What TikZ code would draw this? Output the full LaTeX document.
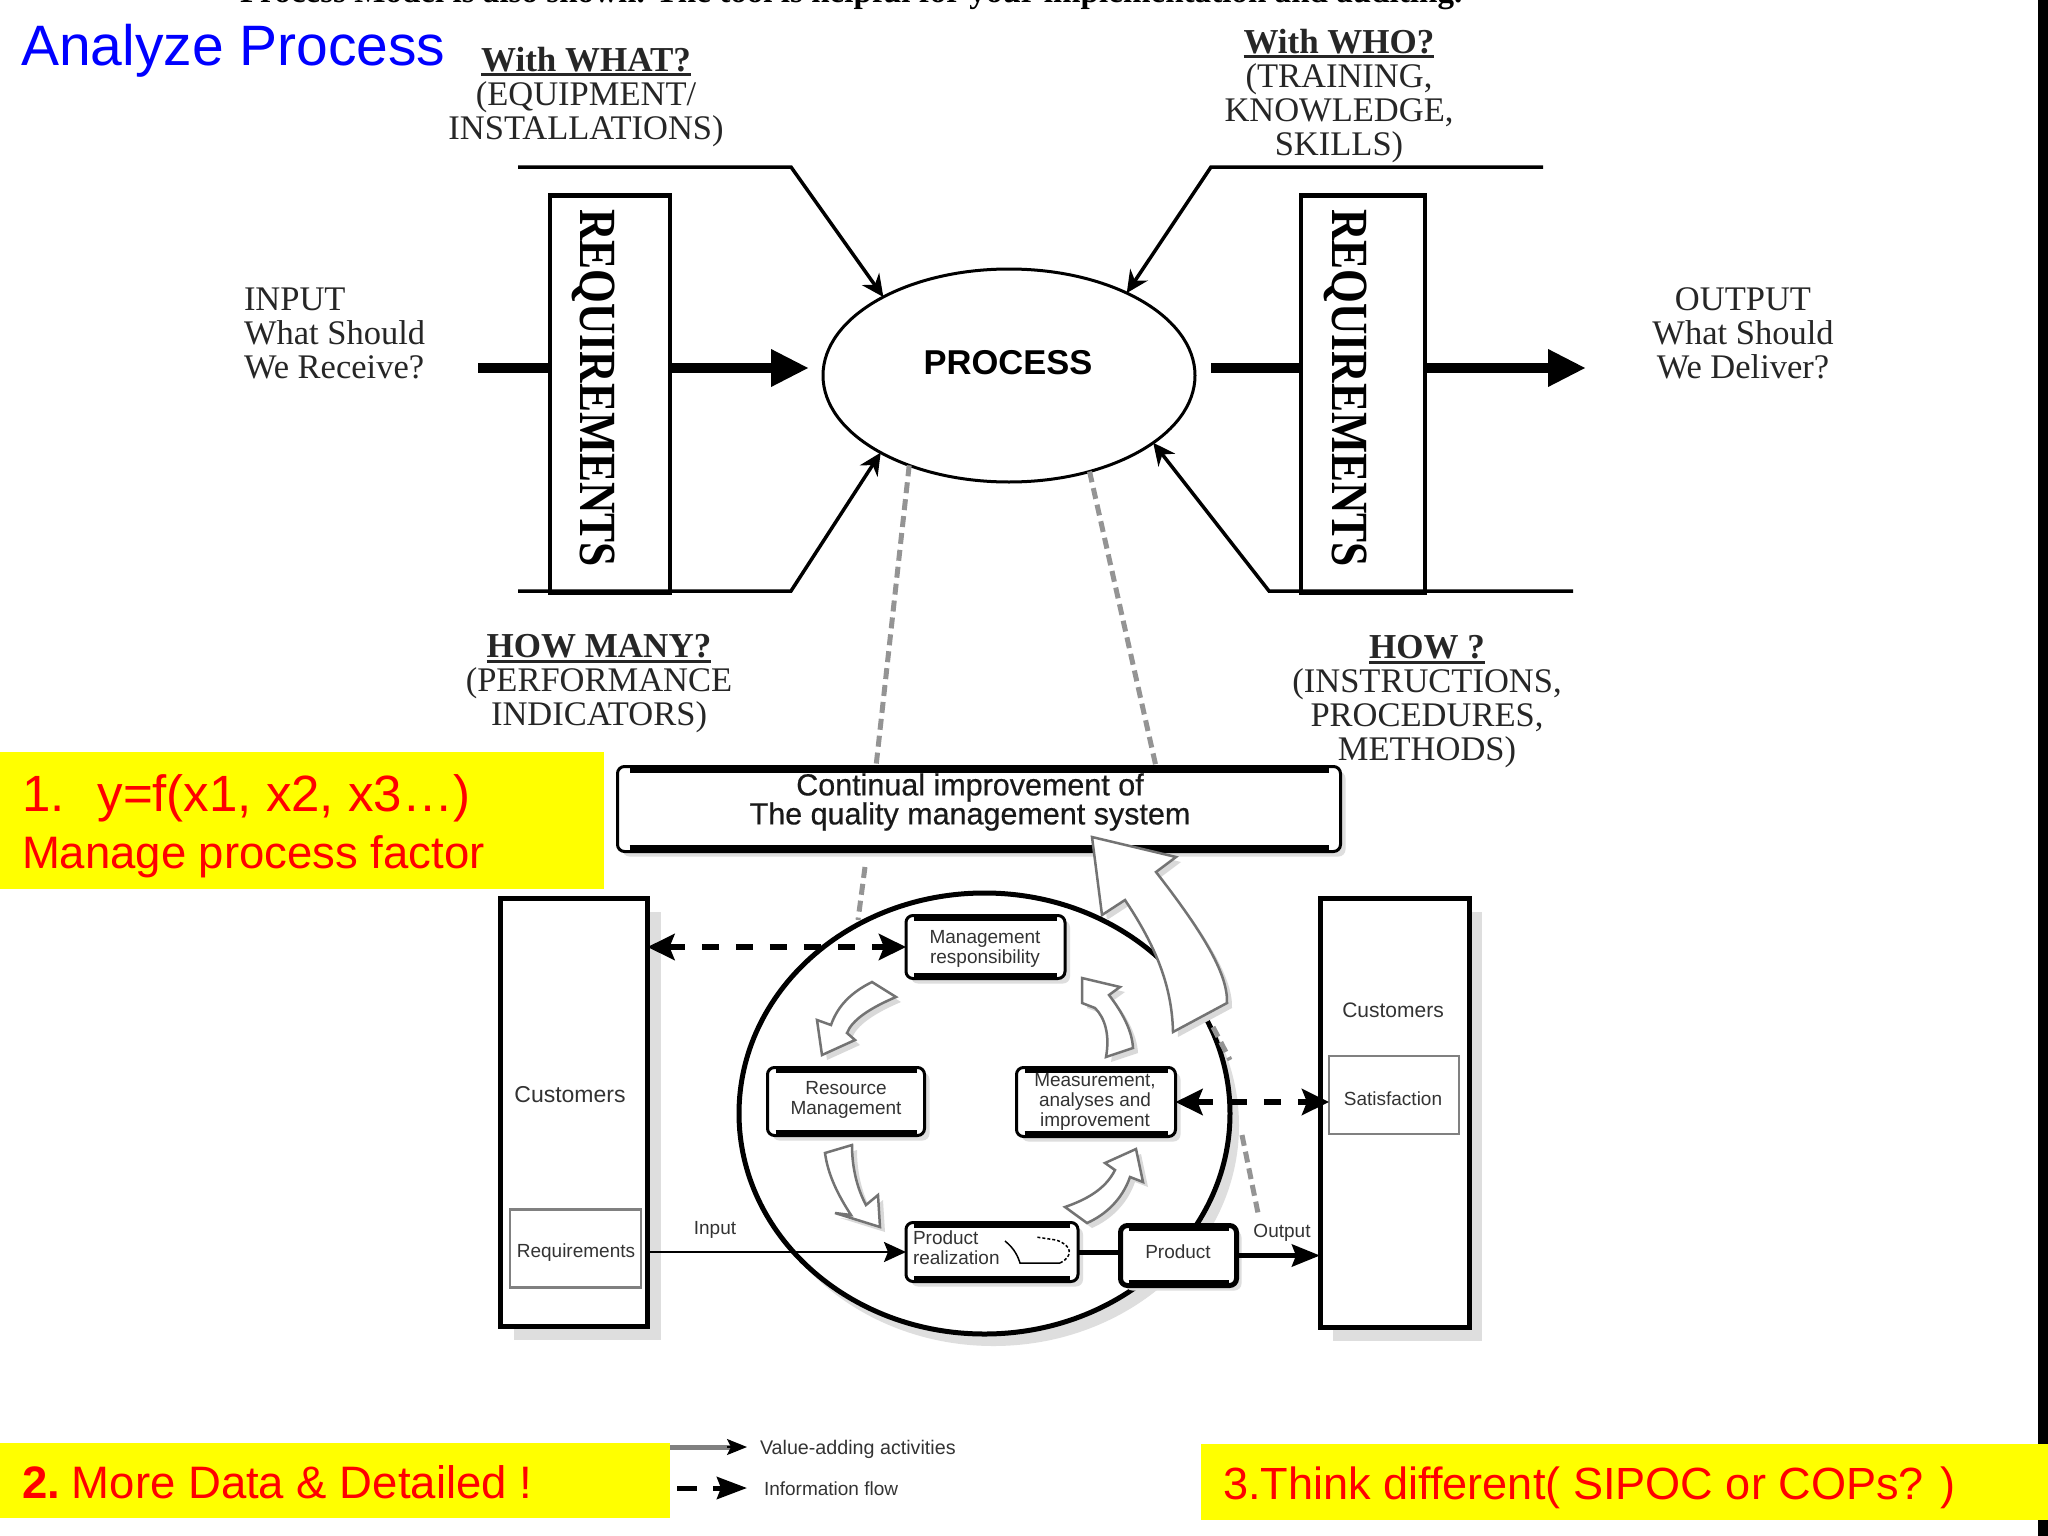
\documentclass[tikz,border=0pt]{standalone}
\usepackage{fontspec}
\setmainfont{Liberation Serif}
\setsansfont{Liberation Sans}
\newfontfamily\heavysans[FakeBold=0.5]{Liberation Sans}
\usetikzlibrary{arrows.meta,shapes.geometric,shadows}
\definecolor{noteyellow}{RGB}{255,255,0}
\definecolor{notered}{RGB}{255,0,0}
\definecolor{titleblue}{RGB}{0,0,255}
\newcommand{\headul}[1]{\setbox0\hbox{\bfseries\fontsize{35}{33}\selectfont #1}\leavevmode\rlap{\rule[-5pt]{\wd0}{3pt}}\box0}
\newcommand{\reqword}{\scalebox{1}[1.2]{\bfseries\fontsize{43.5}{46}\selectfont REQUIREMENTS}}
\tikzset{
	base/.style={inner sep=0pt, outer sep=0pt},
	toplabel/.style={base, align=center, text=black!85, font=\fontsize{34.5}{34}\selectfont},
	smalltext/.style={base, align=center, text=black!80, font=\sffamily\fontsize{19}{20}\selectfont},
	notetext/.style={base, anchor=base west, text=notered, font=\sffamily\fontsize{45.5}{50}\selectfont},
	reqbox/.style={base, draw, line width=4.5pt, minimum height=397pt},
	feedline/.style={line width=3.5pt, line join=miter, -{Stealth[length=22pt,width=21pt]}},
	bigflow/.style={line width=10pt},
	bigarrow/.style={bigflow, -{Triangle[length=38pt,width=35pt]}},
	gaydash/.style={line width=5pt, color=black!42, dash pattern=on 11pt off 6pt},
	custbox/.style={base, draw, fill=white, line width=5pt, drop shadow={shadow xshift=13pt, shadow yshift=-13pt, fill=black!13, opacity=1}},
	innerbox/.style={base, draw=black!50, fill=white, line width=2.5pt},
	ctlbox/.style={base, draw, fill=white, line width=3pt, rounded corners=7pt, drop shadow={shadow xshift=5pt, shadow yshift=-5pt, fill=black!13, opacity=1}},
	ctlbar/.style={line width=7pt},
	blockarrow/.style={draw=black!55, fill=white, line width=2.5pt, line join=miter, drop shadow={shadow xshift=5pt, shadow yshift=-5pt, fill=black!15, opacity=1}},
	infoflow/.style={line width=6pt, dash pattern=on 17pt off 17pt},
	infotips/.style={{Stealth[length=27pt,width=26pt,inset=5pt]}-{Stealth[length=27pt,width=26pt,inset=5pt]}},
}
\begin{document}
\begin{tikzpicture}[x=1pt, y=-1pt]
	\useasboundingbox (0, 0) rectangle (2048, 1536);
	\clip (0, 0) rectangle (2048, 1536);
	\fill[white] (0, 0) rectangle (2048, 1536);
	\fill[black] (2038, 0) rectangle (2048, 1536);
	
	%%%%% UPPER MODEL %%%%%
	
	\node[base, anchor=base west, font=\bfseries\fontsize{33.1}{33}\selectfont] (topline) at (240, 3) {Process Model is also shown. The tool is helpful for your implementation and auditing.};
	
	\node[base, draw, ellipse, line width=3pt, minimum width=372pt, minimum height=213pt] (process) at (1009, 375.5) {};
	\node[base, font=\sffamily\bfseries\fontsize{34.5}{33}\selectfont] (processtext) at (1008, 363) {PROCESS};
	
	\node[reqbox, minimum width=120pt] (reqL) at (610, 394) {};
	\node[reqbox, minimum width=124pt] (reqR) at (1363, 394) {};
	\node[base, rotate=-90] (reqtextL) at (593.5, 388) {\reqword};
	\node[base, rotate=-90] (reqtextR) at (1346, 388) {\reqword};
	
	\coordinate (inL) at (478, 368);
	\coordinate (outR) at (1586, 368);
	\draw[bigflow] (inL) -- (reqL.west |- inL);
	\draw[bigarrow, shorten >=14pt] (reqL.east |- inL) -- (process.west |- inL);
	\draw[bigflow, shorten <=16pt] (process.east |- inL) -- (reqR.west |- inL);
	\draw[bigarrow] (reqR.east |- inL) -- (outR);
	
	\coordinate (whatA) at (518, 167);
	\coordinate (whatB) at (791, 167);
	\coordinate (whoA) at (1543, 167);
	\coordinate (whoB) at (1211, 167);
	\coordinate (manyA) at (518, 591);
	\coordinate (manyB) at (791, 591);
	\coordinate (howA) at (1573, 591);
	\coordinate (howB) at (1269, 591);
	\draw[feedline] (whatA) -- (whatB) -- (process.148);
	\draw[feedline] (whoA) -- (whoB) -- (process.35);
	\draw[feedline] (manyA) -- (manyB) -- (process.211);
	\draw[feedline] (howA) -- (howB) -- (process.335);
	
	\node[toplabel] (withwhat) at (586, 97) {\headul{With WHAT?}\\(EQUIPMENT/\\INSTALLATIONS)};
	\node[toplabel] (withwho) at (1339, 96) {\headul{With WHO?}\\(TRAINING,\\KNOWLEDGE,\\SKILLS)};
	\node[toplabel, align=left, anchor=west] (inputtext) at (244, 333) {INPUT\\What Should\\We Receive?};
	\node[toplabel] (outputtext) at (1743, 333) {OUTPUT\\What Should\\We Deliver?};
	\node[toplabel] (howmany) at (599, 684) {\headul{HOW MANY?}\\(PERFORMANCE\\INDICATORS)};
	\node[toplabel] (howtext) at (1427, 702) {\headul{HOW ?}\\(INSTRUCTIONS,\\PROCEDURES,\\METHODS)};
	
	%%%%% LOWER MODEL %%%%%
	
	\node[base, draw, fill=white, ellipse, line width=5pt, minimum width=491pt, minimum height=441pt, drop shadow={shadow xshift=9pt, shadow yshift=-12pt, fill=black!13, opacity=1}] (qms) at (984.5, 1113.5) {};
	
	\node[ctlbox, minimum width=723pt, minimum height=85pt] (improve) at (979, 809) {};
	\node[base, align=center, text=black!90, font=\heavysans\fontsize{30.5}{29}\selectfont] (improvetext) at (970, 802) {Continual improvement of\\The quality management system};
	
	\coordinate (dashA) at (865, 867);
	\coordinate (dashB) at (858, 920);
	\coordinate (dashC) at (1213, 1027);
	\coordinate (dashD) at (1230, 1060);
	\coordinate (dashE) at (1242, 1135);
	\coordinate (dashF) at (1258, 1213);
	\draw[gaydash] (process.222) -- (improve.north -| 876, 0);
	\draw[gaydash] (process.310) -- (improve.north -| 1156, 0);
	\draw[gaydash] (dashA) -- (dashB);
	\draw[gaydash] (dashC) -- (dashD);
	\draw[gaydash] (dashE) -- (dashF);
	
	\foreach \nm in {improve} {
		\draw[ctlbar, line width=8pt] ([xshift=12, yshift=-2.5]\nm.north west) -- ([xshift=-12, yshift=-2.5]\nm.north east);
		\draw[ctlbar, line width=8pt] ([xshift=12, yshift=2.5]\nm.south west) -- ([xshift=-12, yshift=2.5]\nm.south east);
	}
	
	\node[custbox, minimum width=147pt, minimum height=428pt] (custL) at (574, 1112.5) {};
	\node[custbox, minimum width=149pt, minimum height=429pt] (custR) at (1394.5, 1113) {};
	\node[innerbox, minimum width=131pt, minimum height=78pt] (reqmts) at (575.5, 1248.5) {};
	\node[innerbox, minimum width=130pt, minimum height=78pt] (satis) at (1394, 1095) {};
	
	\node[smalltext, font=\sffamily\fontsize{23}{24}\selectfont] (custtextL) at (570, 1095) {Customers};
	\node[smalltext, font=\sffamily\fontsize{21}{24}\selectfont] (custtextR) at (1393, 1010) {Customers};
	\node[smalltext] (reqmtstext) at (576, 1253) {Requirements};
	\node[smalltext] (satistext) at (1393, 1099) {Satisfaction};
	
	\node[ctlbox, minimum width=159pt, minimum height=63pt] (mgmt) at (985.5, 947) {};
	\node[ctlbox, minimum width=157pt, minimum height=68pt] (resource) at (846, 1101.5) {};
	\node[ctlbox, minimum width=159pt, minimum height=69pt] (measure) at (1096, 1102) {};
	\node[ctlbox, minimum width=172pt, minimum height=59pt] (realize) at (992, 1252) {};
	\node[ctlbox, minimum width=116pt, minimum height=60pt, line width=5pt] (product) at (1178.5, 1255.5) {};
	\foreach \nm in {mgmt, resource, measure, realize, product} {
		\draw[ctlbar] ([xshift=8, yshift=-2]\nm.north west) -- ([xshift=-8, yshift=-2]\nm.north east);
		\draw[ctlbar] ([xshift=8, yshift=2]\nm.south west) -- ([xshift=-8, yshift=2]\nm.south east);
	}
	
	\node[smalltext] (mgmttext) at (985, 949) {Management\\responsibility};
	\node[smalltext] (resourcetext) at (846, 1100) {Resource\\Management};
	\node[smalltext] (measuretext) at (1095, 1102) {Measurement,\\analyses and\\improvement};
	\node[smalltext, align=left, anchor=west] (realizetext) at (913, 1248) {Product\\realization};
	\node[smalltext] (producttext) at (1178, 1252) {Product};
	\node[smalltext] (inputlabel) at (715, 1230) {Input};
	\node[smalltext] (outputlabel) at (1282, 1233) {Output};
	
	\draw[line width=1.5pt] (1005, 1241) .. controls (1015, 1249) and (1018, 1257) .. (1020, 1263) -- (1060, 1263);
	\draw[line width=1.5pt, densely dashed] (1060, 1263) .. controls (1074, 1256) and (1072, 1245) .. (1056, 1240) -- (1036, 1237);
	
	% block arrows of the cycle
	\draw[blockarrow] (872, 982) -- (896, 997) .. controls (870, 1008) and (852, 1020) .. (847, 1033) -- (855, 1040) -- (822, 1055) -- (817, 1020) -- (831, 1025) .. controls (838, 1005) and (852, 992) .. cycle;
	\draw[blockarrow] (825, 1153) -- (852, 1145) .. controls (852, 1170) and (858, 1190) .. (866, 1205) -- (878, 1195) -- (880, 1227) -- (835, 1213) -- (851, 1215) .. controls (838, 1195) and (828, 1175) .. cycle;
	\draw[blockarrow] (1136, 1149) -- (1143, 1182) -- (1130, 1177) .. controls (1122, 1200) and (1105, 1215) .. (1087, 1223) -- (1065, 1207) .. controls (1085, 1200) and (1105, 1190) .. (1115, 1170) -- (1105, 1163) -- cycle;
	\draw[blockarrow] (1082, 978) -- (1120, 987) -- (1109, 995) .. controls (1122, 1012) and (1132, 1030) .. (1133, 1048) -- (1106, 1057) .. controls (1110, 1035) and (1105, 1018) .. (1095, 1008) -- (1082, 1003) -- cycle;
	\draw[blockarrow] (1092, 837) -- (1176, 857) -- (1156, 872) .. controls (1205, 935) and (1228, 975) .. (1227, 1003) -- (1173, 1032) .. controls (1172, 985) and (1155, 945) .. (1125, 900) -- (1102, 915) -- cycle;
	
	\draw[line width=2.5pt, -{Stealth[length=22pt,width=20pt,inset=4pt]}] (custL.east |- realize) -- (realize.west);
	\draw[line width=5pt] (realize.east) -- (realize.east -| product.west);
	\draw[line width=5pt, -{Stealth[length=28pt,width=22pt,inset=4pt]}] (product.east) -- (custR.west |- product);
	\draw[infoflow, infotips] (custL.east |- mgmt) -- (mgmt.west);
	\draw[infoflow, infotips] (measure.east) -- (satis.west |- measure);
	
	%%%%% LEGEND %%%%%
	
	\coordinate (legA) at (670, 1447);
	\coordinate (legB) at (747, 1447);
	\coordinate (legC) at (677, 1488);
	\coordinate (legD) at (697, 1488);
	\coordinate (legE) at (713, 1488);
	\coordinate (legF) at (747, 1488);
	\draw[line width=5pt, color=black!50] (legA) -- (730, 1447);
	\draw[line width=2pt, -{Stealth[length=20pt,width=16pt,inset=4pt]}] (727, 1447) -- (legB);
	\draw[line width=5pt] (legC) -- (legD);
	\draw[line width=5pt, -{Stealth[length=30pt,width=22pt,inset=4pt]}] (legE) -- (legF);
	\node[smalltext, anchor=west, font=\sffamily\fontsize{19.7}{20}\selectfont] (legtextA) at (760, 1449) {Value-adding activities};
	\node[smalltext, anchor=west] (legtextB) at (764, 1489) {Information flow};
	
	%%%%% NOTES %%%%%
	
	\node[base, anchor=base west, text=titleblue, font=\sffamily\fontsize{57}{60}\selectfont] (title) at (21, 66) {Analyze Process};
	
	\fill[noteyellow] (0, 752) rectangle (604, 889);
	\fill[noteyellow] (0, 1443) rectangle (670, 1518);
	\fill[noteyellow] (1201, 1444) rectangle (2048, 1520);
	\node[notetext, font=\sffamily\fontsize{51}{50}\selectfont] (noteA) at (22, 811) {1.\hspace{33pt}y=f(x1, x2, x3…)};
	\node[notetext] (noteB) at (22, 868) {Manage process factor};
	\node[notetext] (noteC) at (22, 1498) {\textbf{2.}\hspace{12pt}More Data \& Detailed !};
	\node[notetext, font=\sffamily\fontsize{45.1}{50}\selectfont] (noteD) at (1223, 1499) {3.Think different( SIPOC or COPs? )};
\end{tikzpicture}
\end{document}
